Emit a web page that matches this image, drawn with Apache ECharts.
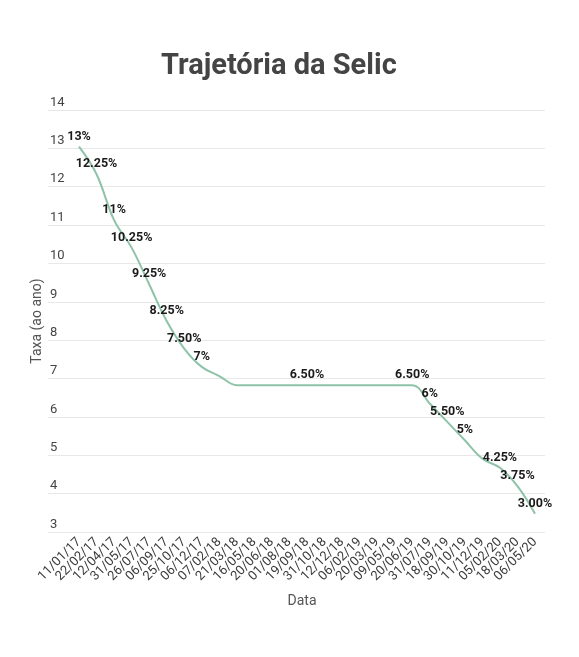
<!DOCTYPE html>
<html>
<head>
<meta charset="utf-8">
<script src="https://cdn.jsdelivr.net/npm/echarts@6/dist/echarts.min.js"></script>
<style>html,body{margin:0;padding:0;background:#fff}#c{width:579px;height:657px}</style>
</head>
<body>
<div id="c"></div>
<script>
const dates = ['11/01/17','22/02/17','12/04/17','31/05/17','26/07/17','06/09/17','25/10/17','06/12/17','07/02/18','21/03/18','16/05/18','20/06/18','01/08/18','19/09/18','31/10/18','12/12/18','06/02/19','20/03/19','09/05/19','20/06/19','31/07/19','18/09/19','30/10/19','11/12/19','05/02/20','18/03/20','06/05/20'];
const selic = [13, 12.25, 11, 10.25, 9.25, 8.25, 7.5, 7, 6.75, 6.5, 6.5, 6.5, 6.5, 6.5, 6.5, 6.5, 6.5, 6.5, 6.5, 6.5, 6, 5.5, 5, 4.5, 4.25, 3.75, 3];
const pointLabels = ['13%','12.25%','11%','10.25%','9.25%','8.25%','7.50%','7%','','','','','','6.50%','','','','','','6.50%','6%','5.50%','5%','','4.25%','3.75%','3.00%'];
const yTicks = {min: 3, max: 14, interval: 1};
const yAxisName = 'Taxa (ao ano)';

const chart = echarts.init(document.getElementById('c'), null, {renderer: 'canvas'});
const font = 'Roboto, "Noto Sans", sans-serif';
chart.setOption({
  backgroundColor: '#ffffff',
  animation: false,
  title: {
    text: 'Trajetória da Selic',
    left: 156, top: 47,
    textStyle: {fontFamily: font, fontSize: 29, fontWeight: 'bold', color: '#444444'}
  },
  graphic: [{
    type: 'text', x: 37, y: 321, rotation: Math.PI / 2,
    style: {text: yAxisName, align: 'center', verticalAlign: 'middle', fontFamily: font, fontSize: 14, fill: '#555555'}
  }],
  grid: [
    {left: 48, right: 34, top: 110, bottom: 125},
    {left: 79, right: 44, top: 110, bottom: 125}
  ],
  xAxis: [
    {type: 'value', gridIndex: 0, show: false, min: 0, max: 1},
    {
      type: 'category', gridIndex: 1, data: dates, boundaryGap: false,
      axisLine: {show: false}, axisTick: {show: false}, splitLine: {show: false},
      axisLabel: {rotate: 45, interval: 0, fontFamily: font, fontSize: 13, color: '#3a3a3a', margin: 8},
      name: 'Data', nameLocation: 'middle', nameGap: 62,
      nameTextStyle: {fontFamily: font, fontSize: 14, color: '#555555', padding: [0, 10, 0, 0]}
    }
  ],
  yAxis: [
    {
      type: 'value', gridIndex: 0, min: yTicks.min, max: yTicks.max, interval: yTicks.interval,
      axisLine: {show: false}, axisTick: {show: false},
      splitLine: {lineStyle: {color: '#e8e8e8', width: 1}},
      axisLabel: {inside: true, margin: 2, verticalAlign: 'bottom', padding: [0, 0, 1, 0], fontFamily: font, fontSize: 13, color: '#444444'}
    },
    {type: 'value', gridIndex: 1, show: false, min: 2.5, max: 14}
  ],
  series: [{
    type: 'line', xAxisIndex: 1, yAxisIndex: 1,
    data: selic,
    smooth: 0.4,
    symbol: 'circle',
    symbolSize: 1,
    showSymbol: true,
    itemStyle: {color: 'rgba(0,0,0,0)'},
    lineStyle: {color: '#8ec3a9', width: 2},
    label: {
      show: true, position: 'top', distance: 3,
      fontFamily: font, fontSize: 12.5, fontWeight: 'bold', color: '#1a1a1a',
      formatter: p => pointLabels[p.dataIndex]
    },
    labelLayout: {hideOverlap: false}
  }]
});
</script>
</body>
</html>
